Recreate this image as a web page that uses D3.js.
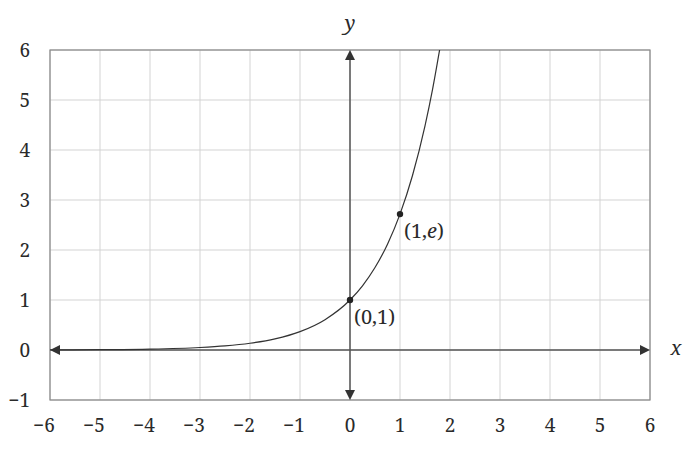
<!DOCTYPE html>
<html>
<head>
<meta charset="utf-8">
<script src="https://cdn.jsdelivr.net/npm/d3@7"></script>
<style>
  body { margin: 0; background: #fff; }
</style>
</head>
<body>
<div id="chart"></div>
<script>
const xTicks = [-6, -5, -4, -3, -2, -1, 0, 1, 2, 3, 4, 5, 6];
const yTicks = [-1, 0, 1, 2, 3, 4, 5, 6];

const curveX = [-6, -5, -4, -3, -2.5, -2, -1.5, -1, -0.5, 0, 0.25, 0.5, 0.75, 1, 1.25, 1.5, 1.65, 1.792];
const curveY = [0.002, 0.007, 0.018, 0.05, 0.082, 0.135, 0.223, 0.368, 0.607, 1, 1.284, 1.649, 2.117, 2.718, 3.49, 4.482, 5.207, 6];

const markX = [0, 1];
const markY = [1, 2.718];
const markLabel = ["(0,1)", "(1,e)"];

function main() {
    const canvasWidth = 700;
    const canvasHeight = 450;
    const serif = "'Noto Serif', 'DejaVu Serif', serif";

    const svg = d3.select("#chart").append("svg")
        .attr("width", canvasWidth)
        .attr("height", canvasHeight)
        .attr("font-family", serif)
        .style("font-family", serif);

    const xScale = d3.scaleLinear().domain([-6, 6]).range([50, 650]);
    const yScale = d3.scaleLinear().domain([-1, 6]).range([400, 50]);

    const defs = svg.append("defs");
    defs.append("clipPath").attr("id", "plotclip")
        .append("rect")
        .attr("x", 50).attr("y", 50).attr("width", 600).attr("height", 350);

    // grid
    svg.append("g").selectAll("line.vgrid")
        .data(xTicks)
        .enter().append("line")
        .attr("x1", d => xScale(d)).attr("x2", d => xScale(d))
        .attr("y1", yScale(-1)).attr("y2", yScale(6))
        .attr("stroke", "#d3d3d3").attr("stroke-width", 1);

    svg.append("g").selectAll("line.hgrid")
        .data(yTicks)
        .enter().append("line")
        .attr("x1", xScale(-6)).attr("x2", xScale(6))
        .attr("y1", d => yScale(d)).attr("y2", d => yScale(d))
        .attr("stroke", "#d3d3d3").attr("stroke-width", 1);

    // frame
    svg.append("rect")
        .attr("x", xScale(-6)).attr("y", yScale(6))
        .attr("width", xScale(6) - xScale(-6))
        .attr("height", yScale(-1) - yScale(6))
        .attr("fill", "none")
        .attr("stroke", "#888").attr("stroke-width", 1.2);

    // tick labels
    const fmt = d => d < 0 ? "\u2212" + Math.abs(d) : String(d);

    svg.append("g").selectAll("text")
        .data(xTicks)
        .enter().append("text")
        .attr("x", d => xScale(d) - (d < 0 ? 6 : 0))
        .attr("y", 432)
        .attr("text-anchor", "middle")
        .attr("font-size", "19px")
        .attr("fill", "#2a2a2a")
        .text(fmt);

    svg.append("g").selectAll("text")
        .data(yTicks)
        .enter().append("text")
        .attr("x", 30)
        .attr("y", d => yScale(d) + 6.5)
        .attr("text-anchor", "end")
        .attr("font-size", "19px")
        .attr("fill", "#2a2a2a")
        .text(fmt);

    // axes with arrows
    const axisColor = "#555";
    const arrow = (tx, ty, dx, dy) => {
        const len = 10, half = 5;
        const bx = tx - dx * len, by = ty - dy * len;
        const px = -dy * half, py = dx * half;
        return `M${tx},${ty}L${bx + px},${by + py}L${bx - px},${by - py}Z`;
    };

    svg.append("line")
        .attr("x1", xScale(-6) + 4).attr("x2", xScale(6) - 4)
        .attr("y1", yScale(0)).attr("y2", yScale(0))
        .attr("stroke", axisColor).attr("stroke-width", 1.5);
    svg.append("line")
        .attr("x1", xScale(0)).attr("x2", xScale(0))
        .attr("y1", yScale(6) + 4).attr("y2", yScale(-1) - 4)
        .attr("stroke", axisColor).attr("stroke-width", 1.5);

    svg.append("path").attr("d", arrow(xScale(-6), yScale(0), -1, 0)).attr("fill", "#333");
    svg.append("path").attr("d", arrow(xScale(6), yScale(0), 1, 0)).attr("fill", "#333");
    svg.append("path").attr("d", arrow(xScale(0), yScale(6), 0, -1)).attr("fill", "#333");
    svg.append("path").attr("d", arrow(xScale(0), yScale(-1), 0, 1)).attr("fill", "#333");

    // axis names
    svg.append("text")
        .attr("x", 676).attr("y", yScale(0) + 5)
        .attr("text-anchor", "middle")
        .attr("font-size", "20px").attr("font-style", "italic")
        .attr("fill", "#2a2a2a")
        .text("x");
    svg.append("text")
        .attr("x", xScale(0)).attr("y", 30)
        .attr("text-anchor", "middle")
        .attr("font-size", "20px").attr("font-style", "italic")
        .attr("fill", "#2a2a2a")
        .text("y");

    // curve
    const line = d3.line()
        .x(d => xScale(d[0]))
        .y(d => yScale(d[1]))
        .curve(d3.curveMonotoneX);

    svg.append("path")
        .datum(d3.zip(curveX, curveY))
        .attr("clip-path", "url(#plotclip)")
        .attr("d", line)
        .attr("fill", "none")
        .attr("stroke", "#333")
        .attr("stroke-width", 1.2);

    // marked points
    const marks = d3.zip(markX, markY, markLabel);
    svg.append("g").selectAll("circle")
        .data(marks)
        .enter().append("circle")
        .attr("cx", d => xScale(d[0]))
        .attr("cy", d => yScale(d[1]))
        .attr("r", 3.2)
        .attr("fill", "#222");

    const labels = svg.append("g").selectAll("text")
        .data(marks)
        .enter().append("text")
        .attr("x", d => xScale(d[0]) + 4)
        .attr("y", d => yScale(d[1]) + 24)
        .attr("font-size", "20px")
        .attr("fill", "#2a2a2a");

    labels.each(function (d) {
        const t = d3.select(this);
        const inner = d[2].slice(1, -1).split(",");
        t.append("tspan").text("(" + inner[0] + ",");
        const second = t.append("tspan").text(inner[1]);
        if (inner[1] === "e") second.attr("font-style", "italic");
        t.append("tspan").text(")");
    });
}
main();
</script>
</body>
</html>
